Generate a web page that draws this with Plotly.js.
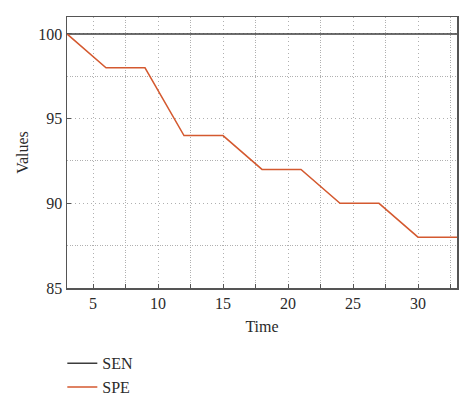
<!DOCTYPE html>
<html>
<head>
<meta charset="utf-8">
<script src="https://cdn.plot.ly/plotly-3.0.1.min.js"></script>
<style>
  html, body { margin: 0; padding: 0; background: #fff; }
  #chart { width: 474px; height: 409px; }
</style>
</head>
<body>
<div id="chart"></div>
<script>
  // values
  const time = [3, 6, 9, 12, 15, 18, 21, 24, 27, 30, 33];
  const sen = [100, 100, 100, 100, 100, 100, 100, 100, 100, 100, 100];
  const spe = [100, 98, 98, 94, 94, 92, 92, 90, 90, 88, 88];

  const FONT = "'Liberation Serif', 'Times New Roman', serif";
  const AXIS = '#555';
  const GRID = '#b0b0b0';
  const TXT = '#2a2a2a';

  const traces = [
    { type: 'scatter', mode: 'lines', x: time, y: sen, name: 'SEN',
      line: { color: '#3c3c3c', width: 1.5 } },
    { type: 'scatter', mode: 'lines', x: time, y: spe, name: 'SPE',
      line: { color: '#d4592f', width: 1.5 } },
  ];

  const axisBase = {
    showline: true, linecolor: AXIS, linewidth: 1.5, mirror: true,
    ticks: 'inside', ticklen: 4, tickcolor: AXIS, tickwidth: 1,
    showgrid: true, gridcolor: GRID, griddash: '1px,3px', gridwidth: 1,
    zeroline: false,
    tickfont: { family: FONT, size: 16, color: TXT },
  };

  const layout = {
    width: 474, height: 409,
    paper_bgcolor: '#fff', plot_bgcolor: '#fff',
    font: { family: FONT, size: 16, color: TXT },
    margin: { l: 67, r: 17, t: 17, b: 121, autoexpand: false },
    showlegend: true,
    legend: {
      x: -0.012, y: -0.215, xanchor: 'left', yanchor: 'top',
      font: { family: FONT, size: 16, color: TXT },
      tracegroupgap: 0, bgcolor: 'rgba(0,0,0,0)',
    },
    xaxis: Object.assign({}, axisBase, {
      range: [3, 33], dtick: 5, tick0: 0,
      minor: { dtick: 2.5, ticks: 'inside', ticklen: 4, tickcolor: AXIS,
               showgrid: true, gridcolor: GRID, griddash: '1px,1.5px' },
      title: { text: 'Time', font: { family: FONT, size: 16, color: TXT }, standoff: 10 },
    }),
    yaxis: Object.assign({}, axisBase, {
      range: [85, 101], dtick: 5, tick0: 0,
      minor: { dtick: 2.5, ticks: '', showgrid: true, gridcolor: GRID, griddash: '1px,1.5px' },
      title: { text: 'Values', font: { family: FONT, size: 16, color: TXT }, standoff: 5 },
    }),
  };

  Plotly.newPlot('chart', traces, layout, { displayModeBar: false, staticPlot: true });
</script>
</body>
</html>
